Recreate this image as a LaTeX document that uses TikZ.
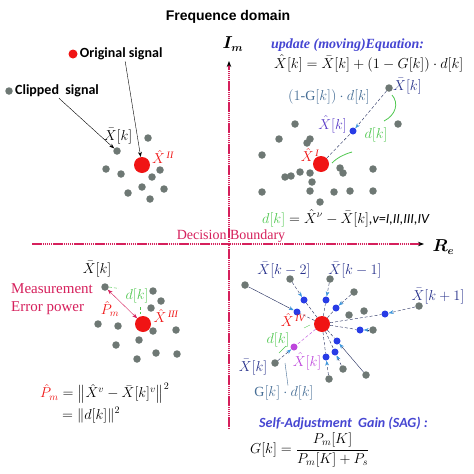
\documentclass[tikz,border=0pt]{standalone}
\usepackage{amsmath}
\usepackage{bm}
\usepackage{fontspec}
\setmainfont{Liberation Serif}
\setsansfont{Liberation Sans}
\newfontfamily\calib{Carlito}
\usetikzlibrary{arrows.meta}
\usetikzlibrary{positioning}

\definecolor{axisred}{RGB}{214,32,92}
\definecolor{origred}{RGB}{240,20,20}
\definecolor{clipgrey}{RGB}{110,120,116}
\definecolor{estblue}{RGB}{40,60,230}
\definecolor{estpurple}{RGB}{190,70,220}
\definecolor{headblue}{RGB}{70,70,210}
\definecolor{navylabel}{RGB}{40,50,140}
\definecolor{navyline}{RGB}{30,40,90}
\definecolor{arrowblue}{RGB}{60,150,220}
\definecolor{steelblue}{RGB}{70,110,150}
\definecolor{dgreen}{RGB}{80,200,80}
\definecolor{violetlbl}{RGB}{90,60,200}

\begin{document}
\begin{tikzpicture}[x=1pt, y=-1pt,
  clipdot/.style={circle, fill=clipgrey, inner sep=0pt, minimum size=7.5pt},
  origdot/.style={circle, fill=origred, inner sep=0pt, minimum size=16pt},
  estdot/.style={circle, fill=estblue, inner sep=0pt, minimum size=7pt},
  axisline/.style={draw=axisred, line width=1.1pt, dash pattern=on 1.5pt off 0.6pt},
  pointer/.style={-{Stealth[length=5pt]}, black, thin},
  move/.style={densely dashed, draw=navyline, -{Stealth[length=5pt, color=arrowblue]}},
  spoke/.style={densely dashed, draw=navyline},
  eq/.style={font=\fontsize{14}{16}\selectfont, inner sep=0pt},
  lbl/.style={font=\fontsize{14}{16}\selectfont, inner sep=0pt},
  legend/.style={font=\calib\bfseries\fontsize{14}{16}\selectfont, inner sep=1pt}
]
  \fill[white] (0,0) rectangle (474,474);
  \useasboundingbox (0,0) rectangle (474,474);

  % Title
  \node[font=\sffamily\bfseries\fontsize{14}{16}\selectfont] (title) at (228,17) {Frequence domain};

  % Axes
  \coordinate (ytail) at (229,429);
  \coordinate (yhead) at (229,61);
  \coordinate (xtail) at (32,244);
  \coordinate (xhead) at (424,244);
  \draw[axisline, -{Stealth[length=6pt, color=black]}] (ytail) -- (yhead);
  \draw[axisline, -{Stealth[length=6pt, color=black]}] (xtail) -- (xhead);
  \node[anchor=west, font=\fontsize{16}{18}\selectfont] (im) at (219,44) {$\bm{I_m}$};
  \node[anchor=west, font=\fontsize{16}{18}\selectfont] (re) at (429,247) {$\bm{R_e}$};
  \node[text=axisred, font=\fontsize{14}{16}\selectfont, inner sep=1pt] (boundary) at (231,236) {Decision Boundary};

  % Quadrant II
  \node[origdot, minimum size=9pt] (legorig) at (73,54) {};
  \node[legend, right=1pt of legorig] (legorigtxt) {Original signal};
  \node[clipdot] (legclip) at (9,91) {};
  \node[legend, right=1pt of legclip] (legcliptxt) {Clipped\ \ signal};
  \foreach \x/\y [count=\i] in {117/151, 148/138, 106/169, 121/174, 152/177, 160/170,
      142/187, 128/193, 164/189, 150/199}
    \node[clipdot] (q2g\i) at (\x,\y) {};
  \node[origdot] (o2) at (142,165) {};
  \node[lbl] (q2xbar) at (118,136) {$\bar{X}[k]$};
  \node[lbl, text=origred] (q2hat) at (163,157) {$\hat{X}^{\,\mathit{II}}$};
  \draw[pointer] ([xshift=2pt]legcliptxt.south) -- (q2g1);
  \draw[pointer] ([xshift=4pt]legorigtxt.south) -- (o2);

  % Quadrant I
  \node[anchor=west, text=headblue, font=\bfseries\itshape\fontsize{14}{16}\selectfont, inner sep=0pt]
    (updhead) at (271,45) {update (moving)Equation:};
  \node[eq, anchor=west] (updeq) at (274,63) {$\hat{X}[k] = \bar{X}[k] + (1 - G[k]) \cdot d[k]$};
  \foreach \x/\y [count=\i] in {295/124, 398/124, 279/139, 307/143, 310/139, 262/155,
      285/177, 291/176, 300/172, 310/173, 312/182, 340/168, 343/173, 373/169,
      262/192, 310/191, 334/192, 350/191, 373/191, 320/202}
    \node[clipdot] (q1g\i) at (\x,\y) {};
  \node[clipdot] (q1src) at (389,88) {};
  \node[estdot] (q1est) at (353,131) {};
  \node[origdot] (o1) at (321,164) {};
  \draw[spoke] (o1) -- (q1est);
  \draw[move] (q1src) -- (q1est);
  \node[lbl, text=navylabel, anchor=west] (q1xbar) at (393,86) {$\bar{X}[k]$};
  \node[lbl, text=violetlbl, anchor=east] (q1xhat) at (347,124) {$\hat{X}[k]$};
  \node[lbl, text=origred] (q1hat) at (310,155) {$\hat{X}^{\,\mathit{I}}$};
  \node[lbl, text=steelblue] (q1gain) at (329,97) {$(1\text{-}\mathrm{G}[k]) \cdot d[k]$};
  \node[lbl, text=dgreen] (q1d) at (376,135) {$d[k]$};
  \draw[dgreen, thick] (392,95) .. controls (399,103) and (396,115) .. (384,121);
  \draw[dgreen, thick] (332,163) .. controls (338,157) and (345,154) .. (352,152);
  \node[eq, anchor=west] (deq) at (262,218)
    {$\color{dgreen}d[k]\color{black} = \hat{X}^{\nu} - \bar{X}[k]$\calib\itshape ,v=I,II,III,IV};

  % Quadrant III
  \node[anchor=west, align=left, text=axisred, font=\fontsize{15}{18}\selectfont, inner sep=0pt]
    (measure) at (11,299) {Measurement\\Error power};
  \foreach \x/\y [count=\i] in {105/287, 153/291, 161/301, 151/308, 98/324, 118/326,
      153/331, 176/330, 116/345, 139/340, 137/359, 156/353, 177/354}
    \node[clipdot] (q3g\i) at (\x,\y) {};
  \node[origdot] (o3) at (143,324) {};
  \node[lbl] (q3xbar) at (97,269) {$\bar{X}[k]$};
  \node[lbl, text=origred] (q3hat) at (166,316) {$\hat{X}^{\,\mathit{III}}$};
  \node[lbl, text=origred] (q3pm) at (110,309) {$\hat{P}_m$};
  \node[lbl, text=dgreen] (q3d) at (137,296) {$d[k]$};
  \draw[{Stealth[length=5pt]}-{Stealth[length=5pt]}, axisred] (q3g1) -- (o3);
  \draw[dgreen, densely dashed] (q3g1.east) -- ++(10,1.5);
  \draw[dgreen, densely dashed] (140,307) -- (140,314);
  \node[eq, anchor=west] (pmeq) at (40,393)
    {$\color{origred}\hat{P}_m\color{black} = \bigl\| \hat{X}^{v} - \bar{X}[k]^{v} \bigr\|^2$};
  \node[eq, anchor=west] (pmeq2) at (62,415) {$= \|d[k]\|^2$};

  % Quadrant IV
  \node[origdot] (o4) at (322,324) {};
  \foreach \gx/\gy/\bx/\by/\ls [count=\i] in {245/285/297/312/solid, 290/279/304/300/densely dashed,
      330/279/326/300/densely dashed, 354/292/336/308/densely dashed, 419/306/385/314/densely dashed,
      373/330/360/330/densely dashed, 366/375/337/341/solid,
      343/369/335/352/densely dashed, 329/379/326/357/densely dashed}
  {
    \node[clipdot] (q4g\i) at (\gx,\gy) {};
    \node[estdot] (q4b\i) at (\bx,\by) {};
    \draw[spoke] (o4) -- (q4b\i);
    \draw[move, \ls] (q4g\i) -- (q4b\i);
  }
  \node[clipdot] (q4c1) at (349,315) {};
  \node[clipdot] (q4c2) at (364,311) {};
  \node[clipdot] (q4src) at (275,363) {};
  \node[estdot, fill=estpurple] (q4est) at (294,347) {};
  \draw[spoke, draw=estpurple] (o4) -- (q4est);
  \draw[move] (q4src) -- (q4est);
  \node[lbl, text=navylabel] (q4km2) at (284,270) {$\bar{X}[k-2]$};
  \node[lbl, text=navylabel] (q4km1) at (355,270) {$\bar{X}[k-1]$};
  \node[lbl, text=navylabel] (q4kp1) at (438,296) {$\bar{X}[k+1]$};
  \node[lbl, text=origred] (q4hat) at (293,320) {$\hat{X}^{\,\mathit{IV}}$};
  \node[lbl, text=dgreen] (q4d) at (278,340) {$d[k]$};
  \node[lbl, text=estpurple] (q4xhat) at (307,361) {$\hat{X}[k]$};
  \node[lbl, text=navylabel] (q4xbar) at (253,367) {$\bar{X}[k]$};
  \node[lbl, text=steelblue] (q4gain) at (284,393) {$\mathrm{G}[k] \cdot d[k]$};
  \draw[dgreen] (304,328) -- (310,325);
  \draw[dgreen] (279,353) -- (286,346);
  \draw[steelblue] (q4gain.north) ++(4,0) -- (285,363);
  \node[anchor=west, text=headblue, font=\calib\bfseries\itshape\fontsize{14}{16}\selectfont, inner sep=0pt]
    (saghead) at (259,423) {Self-Adjustment\ \ Gain (SAG) :};
  \node[eq, anchor=west] (sageq) at (250,450) {$G[k] = \dfrac{P_m[K]}{P_m[K] + P_s}$};
\end{tikzpicture}
\end{document}
